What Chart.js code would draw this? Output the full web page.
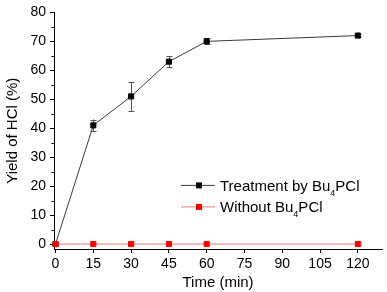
<!DOCTYPE html>
<html><head><meta charset="utf-8">
<script src="https://cdn.jsdelivr.net/npm/chart.js@4/dist/chart.umd.min.js"></script>
<style>html,body{margin:0;padding:0;background:#fff}#wrap{width:387px;height:292px;position:relative}</style>
</head><body><div id="wrap"><canvas id="c"></canvas></div>
<script>
const times = [0, 15, 30, 45, 60, 120];
const yieldTreatment = [0, 41, 51, 63, 70, 72];
const errorTreatment = [0, 2, 5, 2, 1, 0.5];
const yieldWithout = [0, 0, 0, 0, 0, 0];
const xTickValues = [0, 15, 30, 45, 60, 75, 90, 105, 120];
const yTickValues = [0, 10, 20, 30, 40, 50, 60, 70, 80];
const yMinorTickValues = [5, 15, 25, 35, 45, 55, 65, 75];
const seriesLabels = ['Treatment by Bu\u2084PCl', 'Without Bu\u2084PCl'];
const legendParts = [['Treatment by Bu', '4', 'PCl'], ['Without Bu', '4', 'PCl']];
const xTitle = 'Time (min)';
const yTitle = 'Yield of HCl (%)';

const FONT = "'Liberation Sans', Arial, sans-serif";
const colTreat = '#000000', colTreatLine = '#3a3a3a';
const colWithout = '#ff0000', colWithoutLine = '#ee7a7a';

const errorBars = {
  id: 'errorBars',
  beforeDatasetsDraw(chart) {
    const ctx = chart.ctx, xs = chart.scales.x, ys = chart.scales.y;
    ctx.save();
    ctx.strokeStyle = '#555';
    ctx.lineWidth = 1;
    times.forEach((t, i) => {
      const e = errorTreatment[i];
      if (!e) return;
      const x = Math.round(xs.getPixelForValue(t)) + 0.5;
      const y1 = ys.getPixelForValue(yieldTreatment[i] + e);
      const y2 = ys.getPixelForValue(yieldTreatment[i] - e);
      ctx.beginPath();
      ctx.moveTo(x, y1); ctx.lineTo(x, y2);
      ctx.moveTo(x - 3, Math.round(y1) + 0.5); ctx.lineTo(x + 3, Math.round(y1) + 0.5);
      ctx.moveTo(x - 3, Math.round(y2) + 0.5); ctx.lineTo(x + 3, Math.round(y2) + 0.5);
      ctx.stroke();
    });
    ctx.restore();
  }
};

const minorTicks = {
  id: 'minorTicks',
  afterDraw(chart) {
    const ctx = chart.ctx, ys = chart.scales.y;
    ctx.save();
    ctx.strokeStyle = '#000';
    ctx.lineWidth = 1;
    const x = chart.chartArea.left;
    yMinorTickValues.forEach(v => {
      const y = Math.round(ys.getPixelForValue(v)) + 0.5;
      ctx.beginPath(); ctx.moveTo(x - 2.5, y); ctx.lineTo(x, y); ctx.stroke();
    });
    ctx.restore();
  }
};

const customLegend = {
  id: 'customLegend',
  afterDraw(chart) {
    const ctx = chart.ctx, a = chart.chartArea;
    const lx0 = a.left + 127, lx1 = a.left + 161, mx = a.left + 145, tx = a.left + 166;
    const rows = [{y: a.top + 173, c: colTreat, lc: colTreatLine}, {y: a.top + 194.5, c: colWithout, lc: colWithoutLine}];
    ctx.save();
    rows.forEach((r, i) => {
      ctx.strokeStyle = r.lc; ctx.lineWidth = 1;
      ctx.beginPath(); ctx.moveTo(lx0, r.y); ctx.lineTo(lx1, r.y); ctx.stroke();
      ctx.fillStyle = r.c;
      ctx.fillRect(mx - 3, r.y - 3, 6, 6);
      const p = legendParts[i];
      const base = r.y + 5.5;
      ctx.fillStyle = '#000';
      ctx.textBaseline = 'alphabetic';
      ctx.textAlign = 'left';
      ctx.font = '15px ' + FONT;
      ctx.fillText(p[0], tx, base);
      let x = tx + ctx.measureText(p[0]).width;
      ctx.font = '9px ' + FONT;
      ctx.fillText(p[1], x, base + 5);
      x += ctx.measureText(p[1]).width;
      ctx.font = '15px ' + FONT;
      ctx.fillText(p[2], x, base);
    });
    ctx.restore();
  }
};

new Chart(document.getElementById('c'), {
  type: 'line',
  data: {
    datasets: [
      {
        label: seriesLabels[1],
        data: times.map((t, i) => ({x: t, y: yieldWithout[i]})),
        borderColor: colWithoutLine, borderWidth: 1,
        pointStyle: 'rect', pointRadius: 3.6, pointBorderWidth: 1,
        pointBackgroundColor: colWithout, pointBorderColor: colWithout,
        clip: false, order: 0
      },
      {
        label: seriesLabels[0],
        data: times.map((t, i) => ({x: t, y: yieldTreatment[i]})),
        borderColor: colTreatLine, borderWidth: 1,
        pointStyle: 'rect', pointRadius: 3.6, pointBorderWidth: 1,
        pointBackgroundColor: colTreat, pointBorderColor: colTreat,
        clip: false, order: 1
      }
    ]
  },
  options: {
    responsive: true, maintainAspectRatio: false, animation: false,
    layout: {padding: {top: 9, right: 4, left: 0, bottom: 0}},
    plugins: {legend: {display: false}, tooltip: {enabled: false}},
    elements: {line: {tension: 0}},
    scales: {
      x: {
        type: 'linear', min: -0.6, max: 129.6,
        afterBuildTicks: s => { s.ticks = xTickValues.map(v => ({value: v})); },
        afterFit: s => { s.height = 43; },
        grid: {drawOnChartArea: false, drawTicks: true, tickLength: 4, tickColor: '#000'},
        border: {display: true, color: '#000', width: 1},
        ticks: {color: '#000', font: {family: FONT, size: 14}, padding: 3, maxRotation: 0, autoSkip: false},
        title: {display: true, text: xTitle, color: '#000', font: {family: FONT, size: 15}, padding: {top: 1, bottom: 0}}
      },
      y: {
        type: 'linear', min: -1.7, max: 80,
        afterBuildTicks: s => { s.ticks = yTickValues.map(v => ({value: v})); },
        afterFit: s => { s.width = 54; },
        grid: {drawOnChartArea: false, drawTicks: true, tickLength: 4, tickColor: '#000'},
        border: {display: true, color: '#000', width: 1},
        ticks: {color: '#000', font: {family: FONT, size: 14}, padding: 4, autoSkip: false},
        title: {display: true, text: yTitle, color: '#000', font: {family: FONT, size: 15}, padding: {top: 4, bottom: 0}}
      }
    }
  },
  plugins: [errorBars, minorTicks, customLegend]
});
</script>
</body></html>
